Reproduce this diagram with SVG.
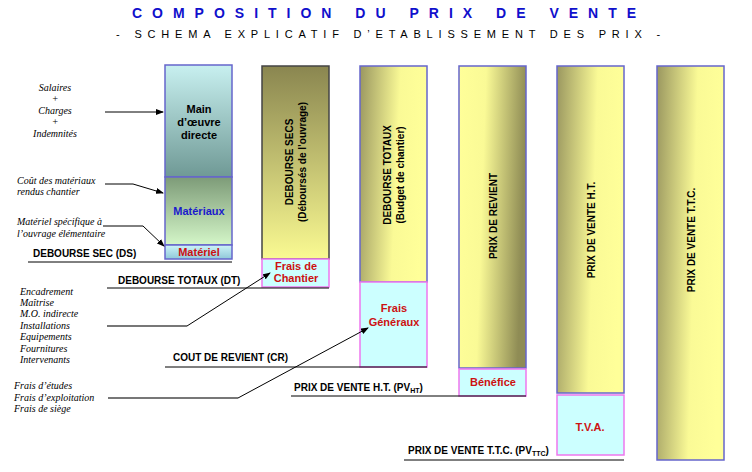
<svg xmlns="http://www.w3.org/2000/svg" width="752" height="472" viewBox="0 0 752 472">
<defs>
<linearGradient id="gMain" x1="0" y1="0" x2="0" y2="1"><stop offset="0" stop-color="#c8f0f0"/><stop offset="1" stop-color="#6f9995"/></linearGradient>
<linearGradient id="gMat" x1="0" y1="0" x2="0" y2="1"><stop offset="0" stop-color="#7d9b78"/><stop offset="1" stop-color="#d4f6c8"/></linearGradient>
<linearGradient id="gMtl" x1="0" y1="0" x2="0" y2="1"><stop offset="0" stop-color="#cdf4f8"/><stop offset="1" stop-color="#8fc8d8"/></linearGradient>
<linearGradient id="gDS" x1="0" y1="0" x2="0" y2="1"><stop offset="0" stop-color="#8a8650"/><stop offset="1" stop-color="#fafa92"/></linearGradient>
<linearGradient id="gH" x1="0" y1="0" x2="1" y2="0.15"><stop offset="0" stop-color="#9a9760"/><stop offset="0.6" stop-color="#fafa96"/><stop offset="1" stop-color="#ffff99"/></linearGradient>
<linearGradient id="gR" x1="0" y1="0" x2="1" y2="0.15"><stop offset="0" stop-color="#ffff99"/><stop offset="0.4" stop-color="#fafa96"/><stop offset="1" stop-color="#8f8c55"/></linearGradient>
<marker id="ar" markerWidth="8" markerHeight="6" refX="7" refY="3" orient="auto" markerUnits="userSpaceOnUse"><path d="M0,0 L8,3 L0,6 z" fill="#000"/></marker>
<style>
.t{font-family:"Liberation Sans",Arial,sans-serif}
.b{font-family:"Liberation Sans",Arial,sans-serif;font-weight:bold;font-size:10px}
.i{font-family:"Liberation Serif","Times New Roman",serif;font-style:italic;font-size:10px}
.red{font-family:"Liberation Sans",Arial,sans-serif;font-weight:bold;font-size:11px;fill:#cc1111;text-anchor:middle}
.col{stroke:#6666cc;stroke-width:1.5}
.box{fill:#ccffff;stroke:#ee77ee;stroke-width:1.5}
.rt{font-family:"Liberation Sans",Arial,sans-serif;font-weight:bold;font-size:10px;text-anchor:middle}
.ln{stroke:#000;stroke-width:1;fill:none}
.gl{stroke:#777;stroke-width:2;fill:none}
</style>
</defs>
<rect width="752" height="472" fill="#fff"/>
<text class="t" x="389" y="18" font-size="14" font-weight="bold" fill="#1010cc" text-anchor="middle" letter-spacing="10">COMPOSITION DU PRIX DE VENTE</text>
<text class="t" x="391" y="38" font-size="11" fill="#000" text-anchor="middle" letter-spacing="5.8">- SCHEMA EXPLICATIF D’ETABLISSEMENT DES PRIX -</text>

<g id="col1">
<rect x="165" y="65" width="67" height="112" fill="url(#gMain)" class="col"/>
<rect x="165" y="177" width="67" height="68" fill="url(#gMat)" class="col"/>
<rect x="165" y="245" width="67" height="14" fill="url(#gMtl)" class="col"/>
<text class="t" font-weight="bold" font-size="11" text-anchor="middle"><tspan x="199" y="113">Main</tspan><tspan x="199" y="126">d’œuvre</tspan><tspan x="199" y="139">directe</tspan></text>
<text class="t" x="199" y="215" font-weight="bold" font-size="11" fill="#1a1acc" text-anchor="middle">Matériaux</text>
<text class="red" x="199" y="256">Matériel</text>
</g>
<g id="col2">
<rect x="262" y="66" width="67" height="193" fill="url(#gDS)" stroke="#444" stroke-width="1.5"/>
<text class="rt" transform="translate(293,162) rotate(-90)">DEBOURSE SECS</text>
<text class="rt" transform="translate(306,162) rotate(-90)">(Déboursés de l’ouvrage)</text>
<rect x="262" y="259" width="67" height="28" class="box"/>
<text class="red" x="296" y="270">Frais de</text>
<text class="red" x="296" y="282">Chantier</text>
</g>
<g id="col3">
<rect x="360" y="66" width="67" height="216" fill="url(#gH)" class="col"/>
<text class="rt" transform="translate(391,175) rotate(-90)">DEBOURSE TOTAUX</text>
<text class="rt" transform="translate(404,175) rotate(-90)">(Budget de chantier)</text>
<rect x="360" y="282" width="67" height="85" class="box"/>
<text class="red" x="394" y="312">Frais</text>
<text class="red" x="394" y="326">Généraux</text>
</g>
<g id="col4">
<rect x="459" y="66" width="67" height="302" fill="url(#gR)" class="col"/>
<text class="rt" transform="translate(497,216) rotate(-90)">PRIX DE REVIENT</text>
<rect x="459" y="369" width="67" height="27" class="box"/>
<text class="red" x="493" y="386">Bénéfice</text>
</g>
<g id="col5">
<rect x="557" y="66" width="67" height="327" fill="url(#gH)" class="col"/>
<text class="rt" transform="translate(595,230) rotate(-90)">PRIX DE VENTE H.T.</text>
<rect x="557" y="395" width="67" height="60" class="box"/>
<text class="red" x="590" y="431">T.V.A.</text>
</g>
<g id="col6">
<rect x="657" y="66" width="67" height="394" fill="url(#gH)" class="col"/>
<text class="rt" transform="translate(695,240) rotate(-90)">PRIX DE VENTE T.T.C.</text>
</g>

<g id="labels">
<text class="i" text-anchor="middle"><tspan x="55" y="91">Salaires</tspan><tspan x="55" y="102">+</tspan><tspan x="55" y="114">Charges</tspan><tspan x="55" y="125">+</tspan><tspan x="55" y="137">Indemnités</tspan></text>
<text class="i"><tspan x="17" y="184">Coût des matériaux</tspan><tspan x="17" y="195">rendus chantier</tspan></text>
<text class="i"><tspan x="17" y="225">Matériel spécifique à</tspan><tspan x="17" y="237">l’ouvrage élémentaire</tspan></text>
<text class="i"><tspan x="20" y="295">Encadrement</tspan><tspan x="20" y="306">Maîtrise</tspan><tspan x="20" y="317">M.O. indirecte</tspan><tspan x="20" y="329">Installations</tspan><tspan x="20" y="340">Equipements</tspan><tspan x="20" y="352">Fournitures</tspan><tspan x="20" y="363">Intervenants</tspan></text>
<text class="i"><tspan x="14" y="389">Frais d’études</tspan><tspan x="14" y="401">Frais d’exploitation</tspan><tspan x="14" y="412">Frais de siège</tspan></text>
<text class="b" x="33" y="257">DEBOURSE SEC (DS)</text>
<text class="b" x="118" y="284">DEBOURSE TOTAUX (DT)</text>
<text class="b" x="173" y="361">COUT DE REVIENT (CR)</text>
<text class="b" x="294" y="391">PRIX DE VENTE H.T. (PV<tspan font-size="7" dy="2">HT</tspan><tspan dy="-2">)</tspan></text>
<text class="b" x="408" y="454">PRIX DE VENTE T.T.C. (PV<tspan font-size="7" dy="2">TTC</tspan><tspan dy="-2">)</tspan></text>
</g>

<g id="connectors">
<line class="ln" x1="28" y1="262" x2="232" y2="262"/>
<line class="ln" x1="107" y1="288" x2="329" y2="288"/>
<line class="ln" x1="165" y1="367" x2="427" y2="367"/>
<line class="ln" x1="291" y1="396" x2="526" y2="396"/>
<line class="ln" x1="404" y1="460" x2="624" y2="460"/>
<line class="ln" x1="105" y1="112" x2="163" y2="112" marker-end="url(#ar)"/>
<polyline class="ln" points="105,184 133,184 163,193" marker-end="url(#ar)"/>
<polyline class="ln" points="103,226 143,226 164,246" marker-end="url(#ar)"/>
<line class="gl" x1="107" y1="326" x2="187" y2="326"/>
<line class="ln" x1="187" y1="326" x2="270" y2="273" marker-end="url(#ar)"/>
<line class="gl" x1="108" y1="398" x2="238" y2="398"/>
<line class="ln" x1="238" y1="398" x2="368" y2="328" marker-end="url(#ar)"/>
</g>
</svg>
